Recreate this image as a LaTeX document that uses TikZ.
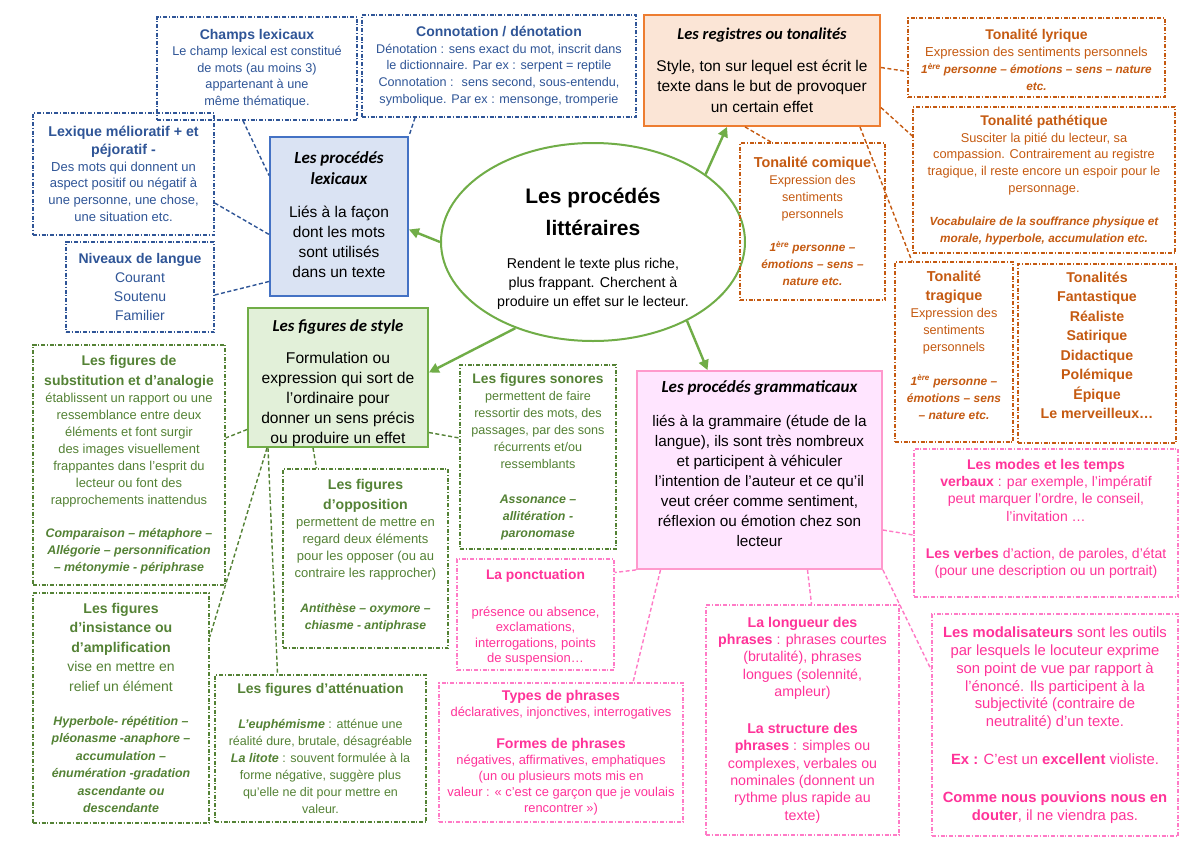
\documentclass[tikz,border=0pt]{standalone}
\usepackage{fontspec}
\setmainfont{Liberation Sans}
\newfontfamily\carl{Carlito}
\usetikzlibrary{arrows.meta,shapes.geometric}
\newcommand\myfs[2]{\fontsize{#1}{#2}\selectfont}
\newcommand\hdr[1]{{\carl\bfseries\itshape #1}}
\definecolor{bluet}{HTML}{2F5597}
\definecolor{blueb}{HTML}{4472C4}
\definecolor{bluef}{HTML}{DAE3F3}
\definecolor{oranget}{HTML}{C55A11}
\definecolor{orangeb}{HTML}{ED7D31}
\definecolor{orangef}{HTML}{FBE5D6}
\definecolor{greent}{HTML}{548235}
\definecolor{greenb}{HTML}{70AD47}
\definecolor{greenf}{HTML}{E2F0D9}
\definecolor{pinkt}{HTML}{FF3399}
\definecolor{pinkd}{HTML}{FF7AC6}
\definecolor{pinkb}{HTML}{FF99CC}
\definecolor{pinkf}{HTML}{FFE5FF}
\tikzset{
  sub/.style={draw, rectangle, inner sep=0pt, align=center, line width=1.4pt,
    dash pattern=on 4pt off 1.6pt on 1.3pt off 1.6pt},
  subblue/.style={sub, draw=bluet, text=bluet},
  suborange/.style={sub, draw=oranget, text=oranget},
  subgreen/.style={sub, draw=greent, text=greent},
  subpink/.style={sub, draw=pinkd, text=pinkt},
  mainbox/.style={draw, rectangle, inner sep=0pt, align=center, line width=1.8pt, text=black},
  link/.style={line width=1.4pt, dash pattern=on 4pt off 2.5pt},
  arr/.style={draw=greenb, line width=2.4pt, -{Triangle[length=10pt,width=10pt]}},
}
\begin{document}
\begin{tikzpicture}[x=1pt,y=-1pt]
\fill[white] (0,0) rectangle (1200,849);
\useasboundingbox (0,0) rectangle (1200,849);

% ---------- centre
\node[ellipse, draw=greenb, line width=2pt, minimum width=304pt, minimum height=198pt,
  inner sep=0pt, align=center, font=\myfs{14.2}{19}, text height=131pt] (ell) at (593,242)
  {{\myfs{21}{30}\bfseries Les procédés}\\[11pt]{\myfs{21}{30}\bfseries littéraires}\\[14pt]
   Rendent le texte plus riche,\\plus frappant. Cherchent à\\produire un effet sur le lecteur.};

% ---------- lexical (blue)
\node[mainbox, draw=blueb, fill=bluef, minimum width=138pt, minimum height=159pt,
  font=\myfs{15.5}{20}, text depth=4pt] (lexicaux) at (339,216.5)
  {\hdr{\myfs{17}{21}Les procédés}\\[1pt]\hdr{\myfs{17}{21}lexicaux}\\[13pt]
   Liés à la façon\\dont les mots\\sont utilisés\\dans un texte};
\node[subblue, minimum width=200pt, minimum height=103pt, font=\myfs{12.7}{16.5}] (champs) at (257,68.5)
  {\textbf{\myfs{14}{16.5}Champs lexicaux}\\Le champ lexical est constitué\\de mots (au moins 3)\\appartenant à une\\même thématique.};
\node[subblue, minimum width=274pt, minimum height=102pt, font=\myfs{12.6}{16.7}] (connot) at (499,66)
  {\textbf{\myfs{14}{16.7}Connotation / dénotation}\\Dénotation : sens exact du mot, inscrit dans\\le dictionnaire. Par ex : serpent = reptile\\Connotation : \ sens second, sous-entendu,\\symbolique. Par ex : mensonge, tromperie};
\node[subblue, minimum width=181pt, minimum height=122pt, font=\myfs{13}{16.7}] (lexique) at (123.5,174)
  {\textbf{\myfs{14.2}{18}Lexique mélioratif + et}\\[1pt]\textbf{\myfs{14.2}{18}péjoratif -}\\Des mots qui donnent un\\aspect positif ou négatif à\\une personne, une chose,\\une situation etc.};
\node[subblue, minimum width=148pt, minimum height=90pt, font=\myfs{14}{18.7}] (niveaux) at (140,287)
  {\textbf{Niveaux de langue}\\Courant\\Soutenu\\Familier};

% ---------- registres (orange)
\node[mainbox, draw=orangeb, fill=orangef, minimum width=236pt, minimum height=111pt,
  font=\myfs{15.5}{20.5}] (registres) at (762,70.5)
  {\hdr{\myfs{16.5}{20}Les registres ou tonalités}\\[11pt]
   Style, ton sur lequel est écrit le\\texte dans le but de provoquer\\un certain effet};
\node[suborange, minimum width=257pt, minimum height=79pt, font=\myfs{13}{17},
  text height=66pt] (lyrique) at (1036.5,57.5)
  {\textbf{\myfs{14}{17}Tonalité lyrique}\\Expression des sentiments personnels\\
   {\myfs{11.8}{17}\bfseries\itshape 1\textsuperscript{ère} personne – émotions – sens – nature}\\{\myfs{11.8}{17}\bfseries\itshape etc.}};
\node[suborange, minimum width=262pt, minimum height=146pt, font=\myfs{12.8}{16.7}] (pathetique) at (1044,180)
  {\textbf{\myfs{14}{16.7}Tonalité pathétique}\\Susciter la pitié du lecteur, sa\\compassion. Contrairement au registre\\
   tragique, il reste encore un espoir pour le\\personnage.\\[17pt]
   {\myfs{11.8}{16.7}\bfseries\itshape Vocabulaire de la souffrance physique et}\\{\myfs{11.8}{16.7}\bfseries\itshape morale, hyperbole, accumulation etc.}};
\node[suborange, minimum width=145pt, minimum height=157pt, font=\myfs{12.6}{17}] (comique) at (812.5,221.5)
  {\textbf{\myfs{14.4}{17}Tonalité comique}\\Expression des\\sentiments\\personnels\\[16pt]
   {\myfs{11.8}{17}\bfseries\itshape 1\textsuperscript{ère} personne –}\\{\myfs{11.8}{17}\bfseries\itshape émotions – sens –}\\{\myfs{11.8}{17}\bfseries\itshape nature etc.}};
\node[suborange, minimum width=118pt, minimum height=180pt, font=\myfs{12.7}{17},
  text depth=14pt] (tragique) at (954,352)
  {\textbf{\myfs{14.4}{19}Tonalité}\\[2pt]\textbf{\myfs{14.4}{19}tragique}\\Expression des\\sentiments\\personnels\\[17pt]
   {\myfs{12}{17}\bfseries\itshape 1\textsuperscript{ère} personne –}\\{\myfs{12}{17}\bfseries\itshape émotions – sens}\\{\myfs{12}{17}\bfseries\itshape – nature etc.}};
\node[suborange, minimum width=158pt, minimum height=179pt, font=\myfs{14.2}{19.5}\bfseries,
  text depth=16pt] (tonalites) at (1097,353.5)
  {Tonalités\\Fantastique\\Réaliste\\Satirique\\Didactique\\Polémique\\Épique\\Le merveilleux…};

% ---------- figures de style (green)
\node[mainbox, draw=greenb, fill=greenf, minimum width=180pt, minimum height=139pt,
  font=\myfs{15.6}{20}, text height=135pt] (figstyle) at (338,377.5)
  {\hdr{\myfs{16.8}{20}Les figures de style}\\[12pt]
   Formulation ou\\expression qui sort de\\l'ordinaire pour\\donner un sens précis\\ou produire un effet};
\node[subgreen, minimum width=192pt, minimum height=240pt, font=\myfs{12.9}{17}] (subst) at (129,465)
  {\textbf{\myfs{14}{20}Les figures de}\\[3pt]\textbf{\myfs{14}{20}substitution et d'analogie}\\
   établissent un rapport ou une\\ressemblance entre deux\\éléments et font surgir\\des images visuellement\\
   frappantes dans l'esprit du\\lecteur ou font des\\rapprochements inattendus\\[16pt]
   {\myfs{12.4}{17}\bfseries\itshape Comparaison – métaphore –}\\{\myfs{12.4}{17}\bfseries\itshape Allégorie – personnification}\\{\myfs{12.4}{17}\bfseries\itshape – métonymie - périphrase}};
\node[subgreen, minimum width=176pt, minimum height=230pt, font=\myfs{12.4}{17.4}] (insist) at (121,708)
  {\textbf{\myfs{14.1}{19.5}Les figures}\\[2pt]\textbf{\myfs{14.1}{19.5}d'insistance ou}\\[2pt]\textbf{\myfs{14.1}{19.5}d'amplification}\\[2pt]
   {\myfs{14}{19}vise en mettre en}\\[2pt]{\myfs{14}{19}relief un élément}\\[17pt]
   \textbf{\textit{Hyperbole- répétition –}}\\\textbf{\textit{pléonasme -anaphore –}}\\\textbf{\textit{accumulation –}}\\
   \textbf{\textit{énumération -gradation}}\\\textbf{\textit{ascendante ou}}\\\textbf{\textit{descendante}}};
\node[subgreen, minimum width=165pt, minimum height=179pt, font=\myfs{13}{17},
  text depth=8pt] (oppos) at (365.5,558.5)
  {\textbf{\myfs{14.1}{20}Les figures}\\[3pt]\textbf{\myfs{14.1}{20}d'opposition}\\
   permettent de mettre en\\regard deux éléments\\pour les opposer (ou au\\contraire les rapprocher)\\[18pt]
   {\myfs{12.2}{17}\bfseries\itshape Antithèse – oxymore –}\\{\myfs{12.2}{17}\bfseries\itshape chiasme - antiphrase}};
\node[subgreen, minimum width=211pt, minimum height=147pt, font=\myfs{12.5}{17}] (attenu) at (320.5,748.5)
  {\textbf{\myfs{14}{17}Les figures d'atténuation}\\[18pt]
   \textbf{\textit{L'euphémisme}} : atténue une\\réalité dure, brutale, désagréable\\
   \textbf{\textit{La litote}} : souvent formulée à la\\forme négative, suggère plus\\qu'elle ne dit pour mettre en\\valeur.};
\node[subgreen, minimum width=156pt, minimum height=184pt, font=\myfs{12.6}{17}] (sonores) at (538,457)
  {\textbf{\myfs{13.8}{17}Les figures sonores}\\permettent de faire\\ressortir des mots, des\\passages, par des sons\\
   récurrents et/ou\\ressemblants\\[18pt]
   {\myfs{12.4}{17}\bfseries\itshape Assonance –}\\{\myfs{12.4}{17}\bfseries\itshape allitération -}\\{\myfs{12.4}{17}\bfseries\itshape paronomase}};

% ---------- grammaticaux (pink)
\node[mainbox, draw=pinkb, fill=pinkf, minimum width=245pt, minimum height=198pt,
  font=\myfs{15.3}{20}, text depth=13pt] (gram) at (759.5,470)
  {\hdr{\myfs{17}{20}Les procédés grammaticaux}\\[14pt]
   liés à la grammaire (étude de la\\langue), ils sont très nombreux\\et participent à véhiculer\\
   l'intention de l'auteur et ce qu'il\\veut créer comme sentiment,\\réflexion ou émotion chez son\\lecteur};
\node[subpink, minimum width=264pt, minimum height=148pt, font=\myfs{14}{17.3},
  text depth=11pt] (modes) at (1046,523)
  {\textbf{Les modes et les temps}\\\textbf{verbaux} : par exemple, l'impératif\\peut marquer l'ordre, le conseil,\\l'invitation …\\[20pt]
   \textbf{Les verbes} d'action, de paroles, d'état\\(pour une description ou un portrait)};
\node[subpink, minimum width=246pt, minimum height=222pt, font=\myfs{14.8}{17.8}] (modal) at (1055,725)
  {\textbf{Les modalisateurs} sont les outils\\par lesquels le locuteur exprime\\son point de vue par rapport à\\
   l'énoncé. Ils participent à la\\subjectivité (contraire de\\neutralité) d'un texte.\\[20pt]
   \textbf{Ex :} C'est un \textbf{excellent} violiste.\\[20pt]
   \textbf{Comme nous pouvions nous en}\\\textbf{douter}, il ne viendra pas.};
\node[subpink, minimum width=193pt, minimum height=230pt, font=\myfs{14.2}{17.3}] (longueur) at (802.5,720)
  {\textbf{La longueur des}\\\textbf{phrases} : phrases courtes\\(brutalité), phrases\\longues (solennité,\\ampleur)\\[20pt]
   \textbf{La structure des}\\\textbf{phrases} : simples ou\\complexes, verbales ou\\nominales (donnent un\\rythme plus rapide au\\texte)};
\node[subpink, minimum width=157pt, minimum height=111pt, font=\myfs{13}{15.5},
  text height=99pt] (ponct) at (535.5,614.5)
  {\textbf{\myfs{13.8}{15.5}La ponctuation}\\[21pt]présence ou absence,\\exclamations,\\interrogations, points\\de suspension…};
\node[subpink, minimum width=244pt, minimum height=139pt, font=\myfs{12.9}{16}] (types) at (561,752.5)
  {\textbf{\myfs{14.1}{16}Types de phrases}\\déclaratives, injonctives, interrogatives\\[16pt]
   \textbf{\myfs{14.1}{16}Formes de phrases}\\négatives, affirmatives, emphatiques\\(un ou plusieurs mots mis en\\
   valeur : « c'est ce garçon que je voulais\\rencontrer »)};

% ---------- arrows from centre
\draw[arr] (ell.west) -- ([yshift=-13pt]lexicaux.east);
\draw[arr] (ell.31) -- ([xshift=-35pt]registres.south);
\draw[arr] (ell.228) -- ([yshift=5pt]figstyle.east);
\draw[arr] (ell.-40) -- ([xshift=-52pt]gram.north);

% ---------- blue links
\draw[link, bluet] ([xshift=-14pt]champs.south) -- ([yshift=41pt]lexicaux.west);
\draw[link, bluet] ([xshift=-84pt]connot.south) -- (lexicaux.north east);
\draw[link, bluet] ([yshift=-29pt]lexique.east) -- ([yshift=-18pt]lexicaux.west);
\draw[link, bluet] ([yshift=-8pt]niveaux.east) -- ([yshift=-65pt]lexicaux.west);

% ---------- orange links
\draw[link, oranget] ([yshift=3pt]registres.east) -- ([yshift=-14pt]lyrique.west);
\draw[link, oranget] ([yshift=-37pt]registres.east) -- ([yshift=44pt]pathetique.west);
\draw[link, oranget] ([xshift=-17pt]registres.south) -- ([xshift=-41pt]comique.north);
\draw[link, oranget] ([xshift=98pt]registres.south) -- ([xshift=-42pt]tragique.north);

% ---------- green links
\draw[link, greent] ([yshift=-52pt]figstyle.west) -- ([yshift=27pt]subst.east);
\draw[link, greent] ([xshift=-71pt]figstyle.south) -- ([yshift=71pt]insist.east);
\draw[link, greent] ([xshift=-70pt]figstyle.south) -- ([xshift=-43pt]attenu.north);
\draw[link, greent] ([xshift=-25pt]figstyle.south) -- ([xshift=-49pt]oppos.north);
\draw[link, greent] ([yshift=-55pt]figstyle.east) -- ([yshift=19pt]sonores.west);

% ---------- pink links
\draw[link, pinkd] (gram.south west) -- ([yshift=42pt]ponct.east);
\draw[link, pinkd] ([xshift=-99pt]gram.south) -- ([xshift=72pt]types.north);
\draw[link, pinkd] ([xshift=48pt]gram.south) -- ([xshift=9pt]longueur.north);
\draw[link, pinkd] ([yshift=-60pt]gram.east) -- ([yshift=-12pt]modes.west);
\draw[link, pinkd] (gram.south east) -- ([yshift=55pt]modal.west);
\end{tikzpicture}
\end{document}
